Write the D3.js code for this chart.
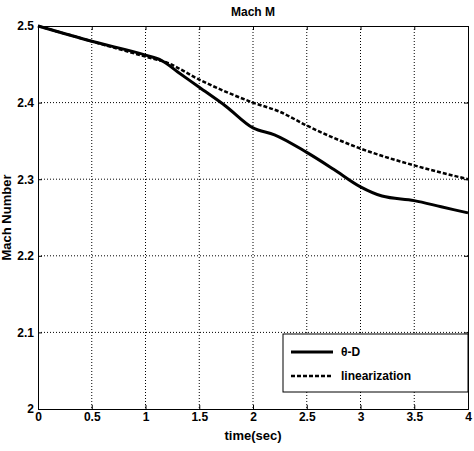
<!DOCTYPE html>
<html><head><meta charset="utf-8">
<script src="https://cdn.jsdelivr.net/npm/d3@7"></script>
<style>body{margin:0;background:#fff}text{font-family:Arial,"Liberation Sans",sans-serif;font-weight:bold}</style>
</head><body><svg id="c" width="474" height="451"></svg>
<script>
'use strict';
var xTicks=[0,0.5,1,1.5,2,2.5,3,3.5,4];
var yTicks=[2,2.1,2.2,2.3,2.4,2.5];
var thetaT=[0,0.5,1,1.15,1.3,1.5,1.75,2,2.2,2.5,2.75,3,3.2,3.5,3.75,4];
var thetaM=[2.5,2.48,2.462,2.455,2.44,2.42,2.395,2.367,2.358,2.335,2.313,2.29,2.278,2.272,2.264,2.256];
var linT=[0,0.5,1,1.2,1.5,2,2.25,2.5,3,3.5,4];
var linM=[2.5,2.48,2.46,2.452,2.43,2.4,2.388,2.37,2.34,2.318,2.3];

var svg=d3.select('#c');
var L=38,R=468,T=26,B=409;
var x=d3.scaleLinear().domain([0,4]).range([L,R]);
var y=d3.scaleLinear().domain([2,2.5]).range([B,T]);

// grid
svg.selectAll('.gx').data(xTicks.slice(1,-1)).enter().append('line')
    .attr('x1',d=>x(d)).attr('x2',d=>x(d)).attr('y1',T).attr('y2',B)
    .attr('stroke','#000').attr('stroke-dasharray','1,2');
svg.selectAll('.gy').data(yTicks.slice(1,-1)).enter().append('line')
    .attr('y1',d=>y(d)).attr('y2',d=>y(d)).attr('x1',L).attr('x2',R)
    .attr('stroke','#000').attr('stroke-dasharray','1,2');

svg.append('g').attr('transform','translate(0,'+B+')')
    .call(d3.axisBottom(x).tickValues(xTicks).tickFormat(d3.format('')).tickSize(-4).tickPadding(3));
svg.append('g').attr('transform','translate('+L+',0)')
    .call(d3.axisLeft(y).tickValues(yTicks).tickFormat(d3.format('')).tickSize(-4).tickPadding(4));
svg.append('g').attr('transform','translate(0,'+T+')')
    .call(d3.axisTop(x).tickValues(xTicks).tickFormat('').tickSize(-4));
svg.append('g').attr('transform','translate('+R+',0)')
    .call(d3.axisRight(y).tickValues(yTicks).tickFormat('').tickSize(-4));
svg.selectAll('.domain').attr('stroke','#000');
svg.selectAll('.tick text').attr('font-size',12).attr('fill','#000');

var line=d3.line().x(d=>x(d[0])).y(d=>y(d[1])).curve(d3.curveMonotoneX);
svg.append('path').datum(d3.zip(linT,linM)).attr('d',line)
    .attr('fill','none').attr('stroke','#000').attr('stroke-width',2.5).attr('stroke-dasharray','4,2');
svg.append('path').datum(d3.zip(thetaT,thetaM)).attr('d',line)
    .attr('fill','none').attr('stroke','#000').attr('stroke-width',3);

svg.append('text').attr('x',(L+R)/2).attr('y',16).attr('text-anchor','middle').attr('font-size',12).text('Mach M');
svg.append('text').attr('x',(L+R)/2).attr('y',440).attr('text-anchor','middle').attr('font-size',13).text('time(sec)');
svg.append('text').attr('transform','translate(11,'+((T+B)/2)+') rotate(-90)').attr('text-anchor','middle').attr('font-size',13).text('Mach Number');

// legend
var lg=svg.append('g').attr('transform','translate(283,334)');
lg.append('rect').attr('width',185).attr('height',58).attr('fill','#fff').attr('stroke','#000');
lg.append('line').attr('x1',8).attr('x2',50).attr('y1',18).attr('y2',18).attr('stroke','#000').attr('stroke-width',3);
lg.append('line').attr('x1',8).attr('x2',50).attr('y1',42).attr('y2',42).attr('stroke','#000').attr('stroke-width',2.5).attr('stroke-dasharray','4,2');
lg.append('text').attr('x',58).attr('y',22).attr('font-size',12).text('θ-D');
lg.append('text').attr('x',58).attr('y',46).attr('font-size',12).text('linearization');
</script></body></html>
